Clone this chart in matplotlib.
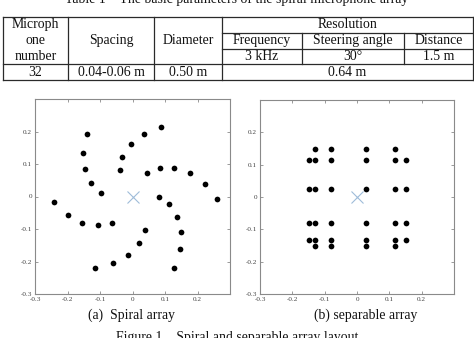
import matplotlib
matplotlib.use("Agg")
import matplotlib.pyplot as plt
from matplotlib.lines import Line2D

plt.rcParams['font.family'] = ['Liberation Serif', 'DejaVu Serif']

# Spiral array microphone positions (m)
spiral_x = [-0.139, -0.151, -0.145, -0.127, -0.097,
            -0.243, -0.200, -0.154, -0.106, -0.063,
            -0.116, -0.059, -0.013, 0.020, 0.037,
            0.127, 0.146, 0.149, 0.137, 0.112, 0.080,
            0.261, 0.223, 0.177, 0.129, 0.085, 0.045,
            0.088, 0.034, -0.005, -0.031, -0.040]
spiral_y = [0.192, 0.135, 0.084, 0.041, 0.010,
            -0.018, -0.058, -0.081, -0.089, -0.081,
            -0.221, -0.206, -0.179, -0.143, -0.103,
            -0.221, -0.163, -0.108, -0.062, -0.024, 0.000,
            -0.009, 0.038, 0.071, 0.088, 0.088, 0.073,
            0.214, 0.193, 0.162, 0.123, 0.082]

# Separable array: grid lines along each axis (corners left empty)
sep_cols = [-0.148, -0.131, -0.079, 0.027, 0.116, 0.150]
sep_rows = [0.150, 0.115, 0.026, -0.080, -0.133, -0.151]
sep_x, sep_y = [], []
n = len(sep_cols)
for i, yv in enumerate(sep_rows):
    for j, xv in enumerate(sep_cols):
        if (i in (0, n - 1)) and (j in (0, n - 1)):
            continue
        sep_x.append(xv)
        sep_y.append(yv)

ticks = [-0.3, -0.2, -0.1, 0, 0.1, 0.2]
tick_labels = ['-0.3', '-0.2', '-0.1', '0', '0.1', '0.2']

# Table contents
table_title = "Table 1    The basic parameters of the spiral microphone array"
fig_caption = "Figure 1    Spiral and separable array layout"
captions = ["(a)  Spiral array", "(b) separable array"]

W, H = 474, 338
fig = plt.figure(figsize=(W / 100, H / 100), dpi=100)
fig.patch.set_facecolor('white')

# overlay in pixel coordinates for the table and captions
ov = fig.add_axes([0, 0, 1, 1])
ov.set_xlim(0, W)
ov.set_ylim(H, 0)
ov.axis('off')

fs = 9.9
lc = '#2a2a2a'
lw = 0.9


def hline(y, x0, x1):
    ov.add_line(Line2D([x0, x1], [y, y], color=lc, lw=lw))


def vline(x, y0, y1):
    ov.add_line(Line2D([x, x], [y0, y1], color=lc, lw=lw))


xl, x1, x2, x3, x4, x5, xr = 2.7, 68.3, 154.3, 222.3, 301.7, 404.3, 472.7
yt, ya, yb, yc, yd = 16.7, 32.7, 48.7, 64.3, 80.0

hline(yt, xl, xr)
hline(ya, x3, xr)
hline(yb, x3, xr)
hline(yc, xl, xr)
hline(yd, xl, xr)
for xv in (xl, x1, x2, x3, xr):
    vline(xv, yt, yd)
for xv in (x4, x5):
    vline(xv, ya, yc)


def cell(x, y, s):
    ov.text(x, y, s, ha='center', va='baseline', fontsize=fs, color='#111111')


ov.text(W / 2, 3.0, table_title, ha='center', va='baseline', fontsize=fs, color='#111111')
c1 = (xl + x1) / 2
c2 = (x1 + x2) / 2
c3 = (x2 + x3) / 2
c4 = (x3 + x4) / 2
c5 = (x4 + x5) / 2
c6 = (x5 + xr) / 2
cr = (x3 + xr) / 2
cell(c1, 28.3, "Microph")
cell(c1, 44.3, "one")
cell(c1, 60.0, "number")
cell(c2, 44.3, "Spacing")
cell(c3, 44.3, "Diameter")
cell(cr, 28.3, "Resolution")
cell(c4, 44.3, "Frequency")
cell(c5, 44.3, "Steering angle")
cell(c6, 44.3, "Distance")
cell(c4, 60.0, "3 kHz")
cell(c5, 60.0, "30°")
cell(c6, 60.0, "1.5 m")
cell(c1, 76.0, "32")
cell(c2, 76.0, "0.04-0.06 m")
cell(c3, 76.0, "0.50 m")
cell(cr, 76.0, "0.64 m")

cell(132, 318.5, captions[0])
cell(366, 318.5, captions[1])
ov.text(W / 2, 340.5, fig_caption, ha='center', va='baseline', fontsize=fs, color='#111111')


def make_axes(rect, xs, ys):
    ax = fig.add_axes(rect)
    ax.scatter(xs, ys, s=17, c='black', marker='o', linewidths=0, zorder=3)
    ax.plot([0], [0], marker='x', color='#9fbcd9', markersize=8, mew=0.8, ls='none', zorder=3)
    ax.set_xlim(-0.3, 0.3)
    ax.set_ylim(-0.3, 0.3)
    ax.set_xticks(ticks)
    ax.set_xticklabels(tick_labels)
    ax.set_yticks(ticks)
    ax.set_yticklabels(tick_labels)
    for sp in ax.spines.values():
        sp.set_color('#8a8a8a')
        sp.set_linewidth(0.8)
    ax.tick_params(direction='in', length=2.5, width=0.6, color='#8a8a8a',
                   labelsize=5.2, labelcolor='#444444', pad=2,
                   top=True, right=True)
    ax.set_facecolor('white')
    return ax


def px_rect(left, right, top, bottom):
    return [left / W, (H - bottom) / H, (right - left) / W, (bottom - top) / H]


make_axes(px_rect(35, 230, 99, 294), spiral_x, spiral_y)
make_axes(px_rect(260, 454, 100, 294), sep_x, sep_y)

fig.savefig('out.png', dpi=100, facecolor='white')
